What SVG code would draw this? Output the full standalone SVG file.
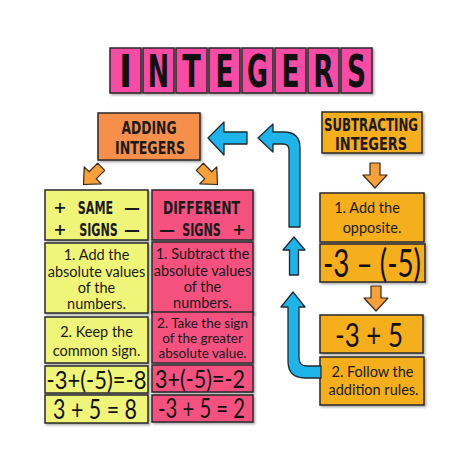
<svg xmlns="http://www.w3.org/2000/svg" width="474" height="474" viewBox="0 0 474 474">
<defs>
<filter id="sh" x="-10%" y="-10%" width="130%" height="130%"><feDropShadow dx="1.5" dy="1.5" stdDeviation="1" flood-color="#000" flood-opacity="0.35"/></filter>
<path id="darr" d="M-5,-13 L5,-13 L5,-1 L12,-1 L0,12 L-12,-1 L-5,-1 Z"/>
</defs>
<style>
.bx{stroke:#2a2a2a;stroke-width:1.5;filter:url(#sh)}
.pk{fill:#F84BA6}.or{fill:#F68F4A}.am{fill:#F5AE1E}.ye{fill:#EFF579}.rd{fill:#F4517F}
.blue{fill:#1DB4EA;stroke:#1f2a33;stroke-width:1.3;stroke-linejoin:round}
.oa{fill:#F6A03A;stroke:#3a2a1a;stroke-width:1.2;stroke-linejoin:round}
.ti{font-family:"DejaVu Sans",sans-serif;font-weight:bold;font-size:44px;fill:#111;text-anchor:middle}
.hd{font-family:"DejaVu Sans",sans-serif;font-weight:bold;font-size:18px;fill:#1a1a1a;text-anchor:middle}
.bd{font-family:Lato,"Open Sans",sans-serif;font-size:14.5px;fill:#1a1a1a;text-anchor:middle}
.sm{font-size:13.5px}
.eq{font-family:Lato,"Open Sans",sans-serif;font-size:25px;fill:#111;text-anchor:middle}
.eqb{font-family:Lato,"Open Sans",sans-serif;font-size:38px;fill:#111;text-anchor:middle}
.sym{font-family:"DejaVu Sans",sans-serif;font-weight:bold;font-size:16px;fill:#1a1a1a;text-anchor:middle}
</style>

<g id="title">
<rect class="bx pk" x="110" y="48" width="31" height="45"/>
<rect class="bx pk" x="143" y="48" width="31" height="45"/>
<rect class="bx pk" x="176" y="48" width="31" height="45"/>
<rect class="bx pk" x="209" y="48" width="31" height="45"/>
<rect class="bx pk" x="242" y="48" width="31" height="45"/>
<rect class="bx pk" x="275" y="48" width="31" height="45"/>
<rect class="bx pk" x="308" y="48" width="31" height="45"/>
<rect class="bx pk" x="341" y="48" width="31" height="45"/>
<text class="ti" transform="translate(125.5,87) scale(0.8,1)">I</text>
<text class="ti" transform="translate(158.5,87) scale(0.58,1)">N</text>
<text class="ti" transform="translate(191.5,87) scale(0.62,1)">T</text>
<text class="ti" transform="translate(224.5,87) scale(0.6,1)">E</text>
<text class="ti" transform="translate(257.5,87) scale(0.58,1)">G</text>
<text class="ti" transform="translate(290.5,87) scale(0.6,1)">E</text>
<text class="ti" transform="translate(323.5,87) scale(0.6,1)">R</text>
<text class="ti" transform="translate(356.5,87) scale(0.6,1)">S</text>
</g>

<g id="adding">
<rect class="bx or" x="98" y="113" width="102" height="47"/>
<text class="hd" x="149" y="134" textLength="55" lengthAdjust="spacingAndGlyphs">ADDING</text>
<text class="hd" x="150" y="154" textLength="70" lengthAdjust="spacingAndGlyphs">INTEGERS</text>
</g>

<g id="subtracting">
<rect class="bx am" x="322" y="112" width="100" height="41"/>
<text class="hd" x="371" y="131" textLength="94" lengthAdjust="spacingAndGlyphs">SUBTRACTING</text>
<text class="hd" x="371" y="150" textLength="72" lengthAdjust="spacingAndGlyphs">INTEGERS</text>
</g>

<g id="same-signs">
<rect class="bx ye" x="45" y="190" width="103" height="50"/>
<text class="sym" x="60" y="213">+</text>
<text class="hd" transform="translate(95.5,214) scale(0.62,1)">SAME</text>
<text class="sym" x="132" y="213">—</text>
<text class="sym" x="60" y="235">+</text>
<text class="hd" transform="translate(98.5,236) scale(0.62,1)">SIGNS</text>
<text class="sym" x="132" y="235">—</text>
</g>
<g id="same-1">
<rect class="bx ye" x="45" y="243" width="103" height="70"/>
<text class="bd" x="96.5" y="260">1.  Add the</text>
<text class="bd" x="96.5" y="277">absolute values</text>
<text class="bd" x="96.5" y="293">of the</text>
<text class="bd" x="96.5" y="309">numbers.</text>
</g>
<g id="same-2">
<rect class="bx ye" x="45" y="317" width="103" height="46"/>
<text class="bd" x="96.5" y="337">2.  Keep the</text>
<text class="bd" x="96.5" y="356">common sign.</text>
</g>
<g id="same-ex1">
<rect class="bx ye" x="45" y="366" width="103" height="27"/>
<text class="eq" x="96.5" y="389" textLength="100" lengthAdjust="spacingAndGlyphs">-3+(-5)=-8</text>
</g>
<g id="same-ex2">
<rect class="bx ye" x="45" y="395" width="103" height="28"/>
<text class="eq" x="95" y="419" style="font-size:27px" textLength="84" lengthAdjust="spacingAndGlyphs">3 + 5 = 8</text>
</g>

<g id="diff-signs">
<rect class="bx rd" x="152" y="190" width="101" height="50"/>
<text class="hd" x="201.5" y="214" textLength="77" lengthAdjust="spacingAndGlyphs">DIFFERENT</text>
<text class="sym" x="167" y="235">—</text>
<text class="hd" transform="translate(201.5,236) scale(0.62,1)">SIGNS</text>
<text class="sym" x="239" y="235">+</text>
</g>
<g id="diff-1">
<rect class="bx rd" x="152" y="242" width="101" height="71"/>
<text class="bd" x="202.5" y="259">1.  Subtract the</text>
<text class="bd" x="202.5" y="276">absolute values</text>
<text class="bd" x="202.5" y="292">of the</text>
<text class="bd" x="202.5" y="308">numbers.</text>
</g>
<g id="diff-2">
<rect class="bx rd" x="152" y="312" width="101" height="51"/>
<text class="bd sm" x="202.5" y="328">2.  Take the sign</text>
<text class="bd sm" x="202.5" y="343">of the greater</text>
<text class="bd sm" x="202.5" y="357.5">absolute value.</text>
</g>
<g id="diff-ex1">
<rect class="bx rd" x="152" y="365" width="101" height="27"/>
<text class="eq" x="200" y="388" textLength="90" lengthAdjust="spacingAndGlyphs">3+(-5)=-2</text>
</g>
<g id="diff-ex2">
<rect class="bx rd" x="152" y="395" width="101" height="27"/>
<text class="eq" x="201.5" y="418" style="font-size:27px" textLength="87" lengthAdjust="spacingAndGlyphs">-3 + 5 = 2</text>
</g>

<g id="sub-1">
<rect class="bx am" x="320" y="193" width="104" height="49"/>
<text class="bd" x="367" y="213">1.  Add the</text>
<text class="bd" x="372" y="233">opposite.</text>
</g>
<g id="sub-ex">
<rect class="bx am" x="320" y="244" width="105" height="38"/>
<text class="eqb" x="372" y="277" textLength="98" lengthAdjust="spacingAndGlyphs">-3 – (-5)</text>
</g>
<g id="sub-ex2">
<rect class="bx am" x="320" y="315" width="103" height="38"/>
<text class="eqb" x="369" y="347" style="font-size:32px" textLength="68" lengthAdjust="spacingAndGlyphs">-3 + 5</text>
</g>
<g id="sub-2">
<rect class="bx am" x="320" y="357" width="104" height="48"/>
<text class="bd" x="372.5" y="377">2.  Follow the</text>
<text class="bd" x="373.5" y="395">addition rules.</text>
</g>

<g id="connectors">
<use href="#darr" class="oa" transform="translate(92,176) rotate(45)"/>
<use href="#darr" class="oa" transform="translate(209,176) rotate(-45)"/>
<use href="#darr" class="oa" transform="translate(375,176)"/>
<use href="#darr" class="oa" transform="translate(376,299)"/>
<path class="blue" d="M208,138 L224,122 L224,132 L247,132 L247,144 L224,144 L224,155 Z"/>
<path class="blue" d="M258,138 L273,124 L273,132 L284,132 Q300,132 300,148 L300,227 L289,227 L289,150 Q289,144 283,144 L273,144 L273,152 Z"/>
<path class="blue" d="M294,237 L305,250 L298.5,250 L298.5,275 L289.5,275 L289.5,250 L283,250 Z"/>
<path class="blue" d="M293,292 L305,307 L299,307 L299,358 Q299,366 307,366 L321,366 L321,378 L305,378 Q288,378 288,361 L288,307 L281,307 Z"/>
</g>
</svg>
